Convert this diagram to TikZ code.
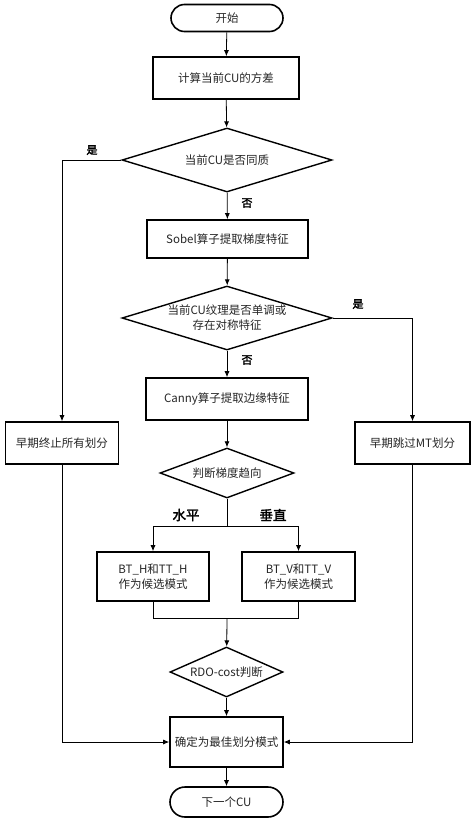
\documentclass[tikz,border=0pt]{standalone}
\usepackage{fontspec}
\setmainfont{Noto Sans CJK SC}
\newfontfamily\cjkbold{Noto Sans CJK SC}[FakeBold=2.5]
\usetikzlibrary{shapes.geometric,shapes.misc,arrows.meta}
\begin{document}
\begin{tikzpicture}[x=1pt,y=-1pt,
  txt/.style={font=\fontsize{11.5}{15}\selectfont, text=black!85, align=center},
  box/.style={txt, draw, rectangle, line width=1.6pt, inner sep=0pt},
  term/.style={txt, draw, rounded rectangle, line width=1.6pt, inner sep=0pt},
  dia/.style={txt, draw, diamond, line width=1.4pt, inner sep=0pt},
  arr/.style={line width=0.8pt, -{Latex[length=6pt,width=5pt]}},
  ln/.style={line width=0.8pt},
  lbl/.style={font=\cjkbold\fontsize{11}{13}\selectfont},
  lblb/.style={font=\cjkbold\fontsize{13.5}{15}\selectfont}]
\useasboundingbox (0,0) rectangle (474,822);
\fill[white] (0,0) rectangle (474,822);

\node[term, minimum width=112, minimum height=27] (start) at (227,18) {开始};
\node[box, minimum width=146, minimum height=42] (b1) at (226,78) {计算当前CU的方差};
\node[dia, aspect=3.3, minimum width=210, minimum height=64] (d1) at (227,160) {当前CU是否同质};
\node[box, minimum width=161, minimum height=38] (sobel) at (227.5,239) {Sobel算子提取梯度特征};
\node[dia, aspect=3.3, minimum width=210, minimum height=64] (d2) at (227,318) {当前CU纹理是否单调或\\存在对称特征};
\node[box, minimum width=162, minimum height=42] (canny) at (227,399) {Canny算子提取边缘特征};
\node[box, minimum width=113, minimum height=42] (left) at (62,443) {早期终止所有划分};
\node[box, minimum width=115, minimum height=42] (right) at (412.5,443) {早期跳过MT划分};
\node[dia, aspect=2.7, minimum width=134, minimum height=50] (d3) at (227,473) {判断梯度趋向};
\node[box, minimum width=112, minimum height=49] (bth) at (153,576.5) {BT\_H和TT\_H\\作为候选模式};
\node[box, minimum width=113, minimum height=49] (btv) at (298.5,576.5) {BT\_V和TT\_V\\作为候选模式};
\node[dia, aspect=2.26, minimum width=113, minimum height=50] (rdo) at (226.5,672) {RDO-cost判断};
\node[box, minimum width=113, minimum height=50] (final) at (226.5,742) {确定为最佳划分模式};
\node[term, minimum width=113, minimum height=30] (end) at (226.5,802) {下一个CU};

\draw[arr] (start) -- (b1);
\draw[arr] (b1) -- (d1);
\draw[arr] (d1.west) -| (left.north);
\node[lbl] (yes1) at (92,150) {是};
\draw[arr] (d1) -- (sobel);
\node[lbl] (no1) at (247,203) {否};
\draw[arr] (sobel) -- (d2);
\draw[arr] (d2.east) -| (right.north);
\node[lbl] (yes2) at (358,304) {是};
\draw[arr] (d2) -- (canny);
\node[lbl] (no2) at (247,360) {否};
\draw[arr] (canny) -- (d3);
\coordinate (split) at (227,526);
\draw[ln] (d3.south) -- (split);
\draw[arr] (split) -| (bth.north);
\draw[arr] (split) -| (btv.north);
\node[lblb] (hor) at (186,515) {水平};
\node[lblb] (ver) at (273,515) {垂直};
\coordinate (merge) at (227,618);
\draw[ln] (bth.south) |- (merge);
\draw[ln] (btv.south) |- (merge);
\draw[arr] (merge) -- (rdo);
\draw[arr] (rdo) -- (final);
\draw[arr] (left.south) |- (final.west);
\draw[arr] (right.south) |- (final.east);
\draw[arr] (final) -- (end);
\end{tikzpicture}
\end{document}
